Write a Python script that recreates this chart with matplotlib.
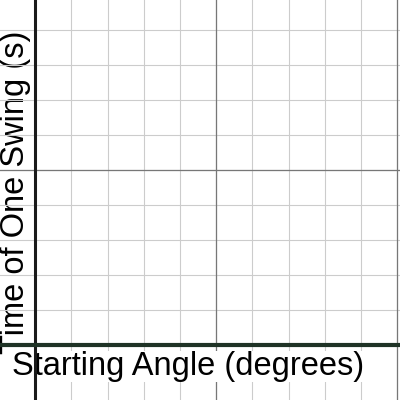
import matplotlib.pyplot as plt
import numpy as np

x_label = "Starting Angle (degrees)"
y_label = "Time of One Swing (s)"
minor_ticks_x = list(range(0, 11))
minor_ticks_y = list(range(0, 10))
major_ticks_x = [0, 5, 10]
major_ticks_y = [0, 5]

fig = plt.figure(figsize=(4, 4), dpi=100)
ax = fig.add_axes([0, 0, 1, 1])
ax.set_xlim(-0.97, 10.08)
ax.set_ylim(-1.57, 9.86)

for v in minor_ticks_x:
    ax.axvline(v, color="#cccccc", lw=0.8)
for v in minor_ticks_y:
    ax.axhline(v, color="#cccccc", lw=0.8)
for v in major_ticks_x[1:]:
    ax.axvline(v, color="#777777", lw=0.9)
for v in major_ticks_y[1:]:
    ax.axhline(v, color="#777777", lw=0.9)

ax.text(0.04, 0.52, y_label, transform=ax.transAxes, ha="center", va="center",
        rotation=90, fontsize=23.5, family="Liberation Sans", color="black", zorder=1)
ax.text(0.47, 0.085, x_label, transform=ax.transAxes, ha="center", va="center",
        fontsize=23.5, family="Liberation Sans", color="black",
        bbox=dict(facecolor="white", edgecolor="none", pad=0), zorder=2)

ax.axvline(0, color="#1a1a1a", lw=2.2, zorder=3)
ax.axhline(0, color="#1f3326", lw=3, zorder=3)

ax.axis("off")
fig.savefig("out.png", dpi=100)
